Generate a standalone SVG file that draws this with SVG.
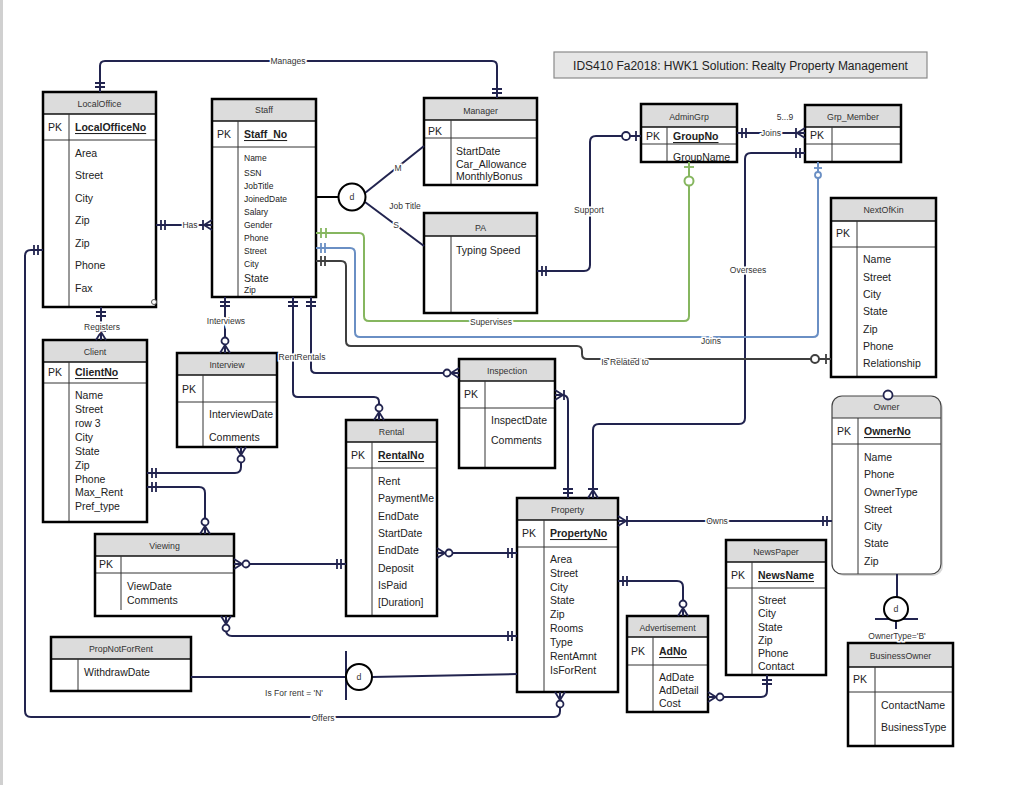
<svg xmlns="http://www.w3.org/2000/svg" width="1024" height="785" viewBox="0 0 1024 785">
<style>
.bg{fill:#fff}
.hd{fill:#dcdcdc}
.box{fill:none;stroke:#000;stroke-width:2.5}
.in{stroke:#333;stroke-width:1}
.hl{stroke:#111;stroke-width:1.5}
text{font-family:"Liberation Sans",Arial,sans-serif;fill:#222}
.t{font-size:8.8px;text-anchor:middle;dominant-baseline:central;fill:#333}
.a{font-size:10.5px;dominant-baseline:central}
.s{font-size:8.5px;dominant-baseline:central}
.k{font-size:10.5px;font-weight:bold;text-decoration:underline;dominant-baseline:central}
.lb{font-size:8.5px;text-anchor:middle;dominant-baseline:central;fill:#333;stroke:#fff;stroke-width:3;paint-order:stroke}
.c{fill:none;stroke-width:2;stroke-linejoin:round}
.nv{stroke:#22244f}
.gr{stroke:#86b65f}
.bl{stroke:#6a8fc4}
.gy{stroke:#3f3f3f}
.dc{fill:#fff;stroke:#000;stroke-width:2}
</style>
<defs>
<marker id="one" viewBox="-22 -8 24 16" markerWidth="24" markerHeight="16" refX="0" refY="0" orient="auto-start-reverse" markerUnits="userSpaceOnUse" overflow="visible">
<path d="M-5,-5V5M-9,-5V5" stroke="#22244f" stroke-width="1.8" fill="none"/></marker>
<marker id="zm" viewBox="-22 -8 24 16" markerWidth="24" markerHeight="16" refX="0" refY="0" orient="auto-start-reverse" markerUnits="userSpaceOnUse" overflow="visible">
<path d="M0,-5L-8,0L0,5M-8,0H0" stroke="#22244f" stroke-width="1.8" fill="none"/><circle cx="-12" cy="0" r="3.5" fill="#fff" stroke="#22244f" stroke-width="1.8"/></marker>
<marker id="om" viewBox="-22 -8 24 16" markerWidth="24" markerHeight="16" refX="0" refY="0" orient="auto-start-reverse" markerUnits="userSpaceOnUse" overflow="visible">
<path d="M0,-5L-8,0L0,5M-8,0H0M-9,-5V5" stroke="#22244f" stroke-width="1.8" fill="none"/></marker>
<marker id="zo" viewBox="-22 -8 24 16" markerWidth="24" markerHeight="16" refX="0" refY="0" orient="auto-start-reverse" markerUnits="userSpaceOnUse" overflow="visible">
<path d="M-5,-5V5" stroke="#22244f" stroke-width="1.8" fill="none"/><circle cx="-15" cy="0" r="4" fill="#fff" stroke="#22244f" stroke-width="1.8"/></marker>
<marker id="oneG" viewBox="-22 -8 24 16" markerWidth="24" markerHeight="16" refX="0" refY="0" orient="auto-start-reverse" markerUnits="userSpaceOnUse" overflow="visible">
<path d="M-5,-5V5M-10,-5V5" stroke="#86b65f" stroke-width="1.8" fill="none"/></marker>
<marker id="zoG" viewBox="-22 -8 24 16" markerWidth="24" markerHeight="16" refX="0" refY="0" orient="auto-start-reverse" markerUnits="userSpaceOnUse" overflow="visible">
<path d="M-5,-5V5" stroke="#86b65f" stroke-width="1.8" fill="none"/><circle cx="-19" cy="0" r="4.5" fill="#fff" stroke="#86b65f" stroke-width="2"/></marker>
<marker id="oneB" viewBox="-22 -8 24 16" markerWidth="24" markerHeight="16" refX="0" refY="0" orient="auto-start-reverse" markerUnits="userSpaceOnUse" overflow="visible">
<path d="M-5,-5V5M-9,-5V5" stroke="#6a8fc4" stroke-width="1.8" fill="none"/></marker>
<marker id="zoB" viewBox="-22 -8 24 16" markerWidth="24" markerHeight="16" refX="0" refY="0" orient="auto-start-reverse" markerUnits="userSpaceOnUse" overflow="visible">
<path d="M-6,-4V4" stroke="#6a8fc4" stroke-width="1.8" fill="none"/><circle cx="-13" cy="0" r="3" fill="#fff" stroke="#6a8fc4" stroke-width="1.8"/></marker>
<marker id="oneK" viewBox="-22 -8 24 16" markerWidth="24" markerHeight="16" refX="0" refY="0" orient="auto-start-reverse" markerUnits="userSpaceOnUse" overflow="visible">
<path d="M-5,-5V5M-9,-5V5" stroke="#3f3f3f" stroke-width="1.8" fill="none"/></marker>
<marker id="zoK" viewBox="-22 -8 24 16" markerWidth="24" markerHeight="16" refX="0" refY="0" orient="auto-start-reverse" markerUnits="userSpaceOnUse" overflow="visible">
<path d="M-5,-5V5" stroke="#3f3f3f" stroke-width="1.8" fill="none"/><circle cx="-16" cy="0" r="4" fill="#fff" stroke="#3f3f3f" stroke-width="2"/></marker>
</defs>
<rect x="0" y="0" width="1024" height="785" fill="#fff"/>
<rect x="0" y="0" width="3" height="785" fill="#d0d0d0"/>

<g id="title">
<rect x="554" y="52" width="373" height="26" fill="#e6e6e6" stroke="#8a8a8a" stroke-width="1.2"/>
<text x="740.5" y="65.5" font-size="12" text-anchor="middle" dominant-baseline="central">IDS410 Fa2018: HWK1 Solution: Realty Property Management</text>
</g>

<g id="LocalOffice">
<rect class="bg" x="43" y="92" width="113" height="215"/>
<rect class="hd" x="43" y="92" width="113" height="22"/>
<line class="hl" x1="43" y1="114" x2="156" y2="114"/>
<line class="in" x1="43" y1="140" x2="156" y2="140"/>
<line class="in" x1="69" y1="114" x2="69" y2="307"/>
<rect class="box" x="43" y="92" width="113" height="215"/>
<circle cx="154" cy="302" r="2.5" fill="#fff" stroke="#555" stroke-width="1"/>
<text class="t" x="99.5" y="104">LocalOffice</text>
<text class="a" x="48" y="127">PK</text>
<text class="k" x="75" y="127">LocalOfficeNo</text>
<text class="a" x="75" y="153">Area</text>
<text class="a" x="75" y="175">Street</text>
<text class="a" x="75" y="198">City</text>
<text class="a" x="75" y="220">Zip</text>
<text class="a" x="75" y="243">Zip</text>
<text class="a" x="75" y="265">Phone</text>
<text class="a" x="75" y="288">Fax</text>
</g>

<g id="Staff">
<rect class="bg" x="212" y="99" width="104" height="198"/>
<rect class="hd" x="212" y="99" width="104" height="22"/>
<line class="hl" x1="212" y1="121" x2="316" y2="121"/>
<line class="in" x1="212" y1="147" x2="316" y2="147"/>
<line class="in" x1="238" y1="121" x2="238" y2="297"/>
<rect class="box" x="212" y="99" width="104" height="198"/>
<text class="t" x="264" y="110" font-size="8.4">Staff</text>
<text class="a" x="217" y="134">PK</text>
<text class="k" x="244" y="134">Staff_No</text>
<text class="s" x="244" y="158">Name</text>
<text class="s" x="244" y="172.5">SSN</text>
<text class="s" x="244" y="186">JobTitle</text>
<text class="s" x="244" y="199">JoinedDate</text>
<text class="s" x="244" y="212">Salary</text>
<text class="s" x="244" y="225">Gender</text>
<text class="s" x="244" y="238">Phone</text>
<text class="s" x="244" y="251">Street</text>
<text class="s" x="244" y="264">City</text>
<text class="a" x="244" y="278" font-size="10">State</text>
<text class="s" x="244" y="290">Zip</text>
</g>

<g id="Manager">
<rect class="bg" x="424" y="98" width="113" height="87"/>
<rect class="hd" x="424" y="98" width="113" height="22"/>
<line class="hl" x1="424" y1="120" x2="537" y2="120"/>
<line class="in" x1="424" y1="138" x2="537" y2="138"/>
<line class="in" x1="451" y1="120" x2="451" y2="185"/>
<rect class="box" x="424" y="98" width="113" height="87"/>
<text class="t" x="480.5" y="111">Manager</text>
<text class="a" x="428" y="131">PK</text>
<text class="a" x="456" y="151">StartDate</text>
<text class="a" x="456" y="163.5">Car_Allowance</text>
<text class="a" x="456" y="176">MonthlyBonus</text>
</g>

<g id="PA">
<rect class="bg" x="424" y="213" width="113" height="100"/>
<rect class="hd" x="424" y="213" width="113" height="23"/>
<line class="hl" x1="424" y1="236" x2="537" y2="236"/>
<line class="in" x1="451" y1="236" x2="451" y2="313"/>
<rect class="box" x="424" y="213" width="113" height="100"/>
<text class="t" x="480.5" y="228">PA</text>
<text class="a" x="456" y="250">Typing Speed</text>
</g>

<g id="AdminGrp">
<rect class="bg" x="641" y="104" width="96" height="58"/>
<rect class="hd" x="641" y="104" width="96" height="23"/>
<text class="a" x="673" y="157">GroupName</text>
<rect class="bg" x="642" y="161" width="94" height="4"/>
<line class="hl" x1="641" y1="127" x2="737" y2="127"/>
<line class="in" x1="641" y1="144" x2="737" y2="144"/>
<line class="in" x1="667" y1="127" x2="667" y2="162"/>
<rect class="box" x="641" y="104" width="96" height="58"/>
<text class="t" x="689" y="117">AdminGrp</text>
<text class="a" x="646" y="136">PK</text>
<text class="k" x="673" y="136">GroupNo</text>
</g>

<g id="Grp_Member">
<rect class="bg" x="805" y="105" width="96" height="57"/>
<rect class="hd" x="805" y="105" width="96" height="22"/>
<line class="hl" x1="805" y1="127" x2="901" y2="127"/>
<line class="in" x1="805" y1="144" x2="901" y2="144"/>
<line class="in" x1="832" y1="127" x2="832" y2="162"/>
<rect class="box" x="805" y="105" width="96" height="57"/>
<text class="t" x="853" y="117">Grp_Member</text>
<text class="a" x="810" y="135">PK</text>
</g>

<g id="NextOfKin">
<rect class="bg" x="831" y="198" width="105" height="179"/>
<rect class="hd" x="831" y="198" width="105" height="23"/>
<line class="hl" x1="831" y1="221" x2="936" y2="221"/>
<line class="in" x1="831" y1="247" x2="936" y2="247"/>
<line class="in" x1="857" y1="221" x2="857" y2="377"/>
<rect class="box" x="831" y="198" width="105" height="179"/>
<text class="t" x="883.5" y="210">NextOfKin</text>
<text class="a" x="836" y="233">PK</text>
<text class="a" x="863" y="259">Name</text>
<text class="a" x="863" y="277">Street</text>
<text class="a" x="863" y="294">City</text>
<text class="a" x="863" y="311">State</text>
<text class="a" x="863" y="329">Zip</text>
<text class="a" x="863" y="346">Phone</text>
<text class="a" x="863" y="363">Relationship</text>
</g>

<g id="Client">
<rect class="bg" x="43" y="340" width="104" height="182"/>
<rect class="hd" x="43" y="340" width="104" height="22"/>
<line class="hl" x1="43" y1="362" x2="147" y2="362"/>
<line class="in" x1="43" y1="383" x2="147" y2="383"/>
<line class="in" x1="69" y1="362" x2="69" y2="522"/>
<rect class="box" x="43" y="340" width="104" height="182"/>
<text class="t" x="95" y="352">Client</text>
<text class="a" x="48" y="372">PK</text>
<text class="k" x="75" y="372">ClientNo</text>
<text class="a" x="75" y="395">Name</text>
<text class="a" x="75" y="409">Street</text>
<text class="a" x="75" y="423">row 3</text>
<text class="a" x="75" y="437">City</text>
<text class="a" x="75" y="451">State</text>
<text class="a" x="75" y="465">Zip</text>
<text class="a" x="75" y="479">Phone</text>
<text class="a" x="75" y="492">Max_Rent</text>
<text class="a" x="75" y="506">Pref_type</text>
</g>

<g id="Interview">
<rect class="bg" x="177" y="353" width="100" height="94"/>
<rect class="hd" x="177" y="353" width="100" height="22"/>
<line class="hl" x1="177" y1="375" x2="277" y2="375"/>
<line class="in" x1="177" y1="402" x2="277" y2="402"/>
<line class="in" x1="203" y1="375" x2="203" y2="447"/>
<rect class="box" x="177" y="353" width="100" height="94"/>
<text class="t" x="227" y="365">Interview</text>
<text class="a" x="182" y="389">PK</text>
<text class="a" x="209" y="414">InterviewDate</text>
<text class="a" x="209" y="437">Comments</text>
</g>

<g id="Inspection">
<rect class="bg" x="459" y="359" width="96" height="109"/>
<rect class="hd" x="459" y="359" width="96" height="22"/>
<line class="hl" x1="459" y1="381" x2="555" y2="381"/>
<line class="in" x1="459" y1="408" x2="555" y2="408"/>
<line class="in" x1="485" y1="381" x2="485" y2="468"/>
<rect class="box" x="459" y="359" width="96" height="109"/>
<text class="t" x="507" y="371">Inspection</text>
<text class="a" x="464" y="394">PK</text>
<text class="a" x="491" y="420">InspectDate</text>
<text class="a" x="491" y="440">Comments</text>
</g>

<g id="Rental">
<rect class="bg" x="346" y="420" width="91" height="196"/>
<rect class="hd" x="346" y="420" width="91" height="22"/>
<line class="hl" x1="346" y1="442" x2="437" y2="442"/>
<line class="in" x1="346" y1="468" x2="437" y2="468"/>
<line class="in" x1="372" y1="442" x2="372" y2="616"/>
<rect class="box" x="346" y="420" width="91" height="196"/>
<text class="t" x="391.5" y="432">Rental</text>
<text class="a" x="351" y="455">PK</text>
<text class="k" x="378" y="455">RentalNo</text>
<text class="a" x="378" y="481">Rent</text>
<text class="a" x="378" y="498">PaymentMe</text>
<text class="a" x="378" y="516">EndDate</text>
<text class="a" x="378" y="533">StartDate</text>
<text class="a" x="378" y="550">EndDate</text>
<text class="a" x="378" y="568">Deposit</text>
<text class="a" x="378" y="585">IsPaid</text>
<text class="a" x="378" y="602">[Duration]</text>
</g>

<g id="Property">
<rect class="bg" x="517" y="498" width="101" height="194"/>
<rect class="hd" x="517" y="498" width="101" height="22"/>
<line class="hl" x1="517" y1="520" x2="618" y2="520"/>
<line class="in" x1="517" y1="547" x2="618" y2="547"/>
<line class="in" x1="544" y1="520" x2="544" y2="692"/>
<rect class="box" x="517" y="498" width="101" height="194"/>
<text class="t" x="567.5" y="510">Property</text>
<text class="a" x="522" y="533">PK</text>
<text class="k" x="550" y="533">PropertyNo</text>
<text class="a" x="550" y="559">Area</text>
<text class="a" x="550" y="573">Street</text>
<text class="a" x="550" y="587">City</text>
<text class="a" x="550" y="600">State</text>
<text class="a" x="550" y="614">Zip</text>
<text class="a" x="550" y="628">Rooms</text>
<text class="a" x="550" y="642">Type</text>
<text class="a" x="550" y="656">RentAmnt</text>
<text class="a" x="550" y="670">IsForRent</text>
</g>

<g id="Viewing">
<rect class="bg" x="95" y="534" width="139" height="82"/>
<rect class="hd" x="95" y="534" width="139" height="22"/>
<line class="hl" x1="95" y1="556" x2="234" y2="556"/>
<line class="in" x1="95" y1="573" x2="234" y2="573"/>
<line class="in" x1="121" y1="556" x2="121" y2="610"/>
<rect class="box" x="95" y="534" width="139" height="82"/>
<text class="t" x="164.5" y="546">Viewing</text>
<text class="a" x="99" y="564">PK</text>
<text class="a" x="127" y="586">ViewDate</text>
<text class="a" x="127" y="600">Comments</text>
</g>

<g id="PropNotForRent">
<rect class="bg" x="51" y="637" width="140" height="54"/>
<rect class="hd" x="51" y="637" width="140" height="22"/>
<line class="hl" x1="51" y1="659" x2="191" y2="659"/>
<line class="in" x1="78" y1="659" x2="78" y2="691"/>
<rect class="box" x="51" y="637" width="140" height="54"/>
<text class="t" x="121" y="649">PropNotForRent</text>
<text class="a" x="84" y="672">WithdrawDate</text>
</g>

<g id="Advertisement">
<rect class="bg" x="627" y="616" width="81" height="96"/>
<rect class="hd" x="627" y="616" width="81" height="21"/>
<line class="hl" x1="627" y1="637" x2="708" y2="637"/>
<line class="in" x1="627" y1="665" x2="708" y2="665"/>
<line class="in" x1="653" y1="637" x2="653" y2="712"/>
<rect class="box" x="627" y="616" width="81" height="96"/>
<text class="t" x="667.5" y="627.5">Advertisement</text>
<text class="a" x="631" y="651">PK</text>
<text class="k" x="659" y="651">AdNo</text>
<text class="a" x="659" y="677">AdDate</text>
<text class="a" x="659" y="690">AdDetail</text>
<text class="a" x="659" y="703">Cost</text>
</g>

<g id="NewsPaper">
<rect class="bg" x="726" y="540" width="100" height="135"/>
<rect class="hd" x="726" y="540" width="100" height="22"/>
<line class="hl" x1="726" y1="562" x2="826" y2="562"/>
<line class="in" x1="726" y1="588" x2="826" y2="588"/>
<line class="in" x1="752" y1="562" x2="752" y2="675"/>
<rect class="box" x="726" y="540" width="100" height="135"/>
<text class="t" x="776" y="551.5">NewsPaper</text>
<text class="a" x="731" y="575">PK</text>
<text class="k" x="758" y="575">NewsName</text>
<text class="a" x="758" y="600">Street</text>
<text class="a" x="758" y="613">City</text>
<text class="a" x="758" y="627">State</text>
<text class="a" x="758" y="640">Zip</text>
<text class="a" x="758" y="653">Phone</text>
<text class="a" x="758" y="666">Contact</text>
</g>

<g id="Owner">
<rect x="834" y="398" width="109" height="178" rx="10" fill="#aaa" opacity="0.45"/>
<rect x="832" y="396" width="109" height="178" rx="10" fill="#fff"/>
<path d="M832,418 V406 Q832,396 842,396 H931 Q941,396 941,406 V418 Z" fill="#dcdcdc"/>
<line class="in" x1="832" y1="418" x2="941" y2="418"/>
<line class="in" x1="832" y1="444" x2="941" y2="444"/>
<line class="in" x1="858" y1="418" x2="858" y2="574"/>
<rect x="832" y="396" width="109" height="178" rx="10" fill="none" stroke="#444" stroke-width="1.2"/>
<circle cx="888" cy="395" r="4.5" fill="#fff" stroke="#22244f" stroke-width="1.8"/>
<text class="t" x="886.5" y="407">Owner</text>
<text class="a" x="837" y="431">PK</text>
<text class="k" x="864" y="431">OwnerNo</text>
<text class="a" x="864" y="457">Name</text>
<text class="a" x="864" y="474">Phone</text>
<text class="a" x="864" y="492">OwnerType</text>
<text class="a" x="864" y="509">Street</text>
<text class="a" x="864" y="526">City</text>
<text class="a" x="864" y="543">State</text>
<text class="a" x="864" y="561">Zip</text>
</g>

<g id="BusinessOwner">
<rect class="bg" x="848" y="643" width="105" height="103"/>
<rect class="hd" x="848" y="643" width="105" height="24"/>
<line class="hl" x1="848" y1="667" x2="953" y2="667"/>
<line class="in" x1="848" y1="692" x2="953" y2="692"/>
<line class="in" x1="875" y1="667" x2="875" y2="746"/>
<rect class="box" x="848" y="643" width="105" height="103"/>
<text class="t" x="900.5" y="655.5">BusinessOwner</text>
<text class="a" x="853" y="679">PK</text>
<text class="a" x="881" y="705">ContactName</text>
<text class="a" x="881" y="727">BusinessType</text>
</g>

<g id="connectors">
<path class="c nv" d="M100,92 V66 Q100,61 105,61 H492 Q497,61 497,66 V98" marker-start="url(#one)" marker-end="url(#one)"/>
<path class="c nv" d="M156,225 H212" marker-start="url(#one)" marker-end="url(#om)"/>
<path class="c nv" d="M101,307 V340" marker-start="url(#one)" marker-end="url(#om)"/>
<path class="c nv" d="M225,297 V353" marker-start="url(#one)" marker-end="url(#zm)"/>
<path class="c nv" d="M293,297 V392 Q293,397 298,397 H374 Q379,397 379,402 V420" marker-start="url(#one)" marker-end="url(#zm)"/>
<path class="c nv" d="M311,297 V368 Q311,373 316,373 H459" marker-start="url(#one)" marker-end="url(#zm)"/>
<path class="c" stroke="#000" d="M316,197 H338"/>
<path class="c nv" d="M365,193 L424,146"/>
<path class="c nv" d="M365,202 L424,246"/>
<path class="c nv" d="M537,271 H584 Q590,271 590,265 V142 Q590,136 596,136 H641" marker-start="url(#one)" marker-end="url(#zo)"/>
<path class="c nv" d="M737,133 H805" marker-start="url(#one)" marker-end="url(#om)"/>
<path class="c nv" d="M805,153 H751 Q745,153 745,159 V418 Q745,424 739,424 H599 Q593,424 593,430 V498" marker-start="url(#one)" marker-end="url(#om)"/>
<path class="c gr" d="M316,233 H359 Q364,233 364,238 V316 Q364,321 369,321 H684 Q689,321 689,316 V162" marker-start="url(#oneG)" marker-end="url(#zoG)"/>
<path class="c bl" d="M316,248 H350 Q355,248 355,253 V332 Q355,337 360,337 H813 Q818,337 818,332 V162" marker-start="url(#oneB)" marker-end="url(#zoB)"/>
<path class="c gy" d="M316,261 H341 Q346,261 346,266 V341 Q346,346 351,346 H577 Q582,346 582,351 V354 Q582,359 587,359 H831" marker-start="url(#oneK)" marker-end="url(#zoK)"/>
<path class="c nv" d="M147,473 H235 Q241,473 241,467 V447" marker-start="url(#one)" marker-end="url(#zm)"/>
<path class="c nv" d="M147,487 H199 Q205,487 205,493 V534" marker-start="url(#one)" marker-end="url(#zm)"/>
<path class="c nv" d="M234,564 H346" marker-start="url(#zm)" marker-end="url(#one)"/>
<path class="c nv" d="M226,616 V630 Q226,636 232,636 H517" marker-start="url(#zm)" marker-end="url(#one)"/>
<path class="c nv" d="M437,553 H517" marker-start="url(#zm)" marker-end="url(#one)"/>
<path class="c nv" d="M555,395 H562 Q568,395 568,401 V498" marker-start="url(#om)" marker-end="url(#one)"/>
<path class="c nv" d="M43,250 H31 Q25,250 25,256 V711 Q25,717 31,717 H554 Q560,717 560,711 V692" marker-start="url(#one)" marker-end="url(#zm)"/>
<path class="c nv" d="M618,521 H832" marker-start="url(#om)" marker-end="url(#one)"/>
<path class="c nv" d="M618,581 H677 Q683,581 683,587 V616" marker-start="url(#one)" marker-end="url(#zm)"/>
<path class="c nv" d="M708,697 H761 Q767,697 767,691 V675" marker-start="url(#zm)" marker-end="url(#one)"/>
<path class="c nv" d="M191,677 H346"/>
<path class="c nv" d="M346,651 V700"/>
<path class="c nv" d="M372,677 L517,674"/>
<path class="c nv" d="M897,574 V597"/>
<path class="c nv" stroke-width="1.5" d="M875,619 H918"/>
<path class="c nv" d="M896,621 V629"/>
<circle class="dc" cx="352" cy="197" r="13.5"/>
<circle class="dc" cx="359" cy="677" r="13"/>
<circle class="dc" cx="896" cy="609" r="12"/>
</g>

<g id="labels">
<text class="t" x="352" y="197">d</text>
<text class="t" x="359" y="677">d</text>
<text class="t" x="896" y="609">d</text>
<text class="lb" x="288" y="61">Manages</text>
<text class="lb" x="190" y="225">Has</text>
<text class="lb" x="102" y="327">Registers</text>
<text class="lb" x="226" y="321">Interviews</text>
<text class="lb" x="302" y="357">RentRentals</text>
<text class="lb" x="398" y="168">M</text>
<text class="lb" x="396" y="225">S</text>
<text class="lb" x="405" y="206">Job Title</text>
<text class="lb" x="589" y="210">Support</text>
<text class="lb" x="771" y="133">Joins</text>
<text class="lb" x="785" y="117">5...9</text>
<text class="lb" x="748" y="270">Oversees</text>
<text class="lb" x="491" y="322">Supervises</text>
<text class="lb" x="711" y="341">Joins</text>
<text class="lb" x="625" y="362">Is Related to</text>
<text class="lb" x="717" y="521">Owns</text>
<text class="lb" x="323" y="718">Offers</text>
<text class="lb" x="294" y="693">Is For rent = 'N'</text>
<text class="lb" x="897" y="636">OwnerType='B'</text>
</g>
</svg>
